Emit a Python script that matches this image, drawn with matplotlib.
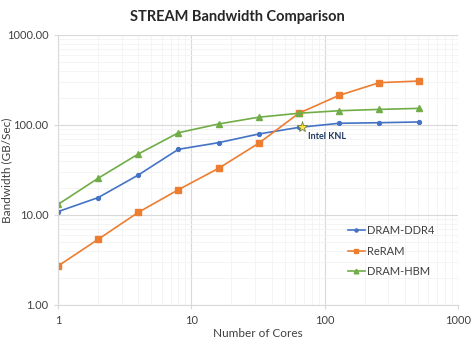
import matplotlib
matplotlib.use("Agg")
import matplotlib.pyplot as plt
from matplotlib.ticker import FixedLocator, FixedFormatter, LogLocator, NullFormatter

plt.rcParams['font.family'] = ['Lato', 'DejaVu Sans']

cores = [1, 2, 4, 8, 16, 32, 64, 128, 256, 512]
ddr4 = [10.9, 15.6, 27.8, 53.7, 63.6, 79.4, 94.0, 104.4, 106.0, 108.0]
reram = [2.71, 5.37, 10.7, 19.1, 33.0, 62.6, 135.0, 213.0, 295.0, 308.0]
hbm = [13.1, 25.6, 47.6, 82.0, 102.6, 122.0, 135.0, 144.0, 149.0, 153.0]
knl_cores = [68]
knl_bw = [95.8]
knl_label = "Intel KNL"

x_ticks = [1, 10, 100, 1000]
x_labels = ["1", "10", "100", "1000"]
y_ticks = [1, 10, 100, 1000]
y_labels = ["1.00", "10.00", "100.00", "1000.00"]

fig = plt.figure(figsize=(4.74, 3.44), dpi=100)
ax = fig.add_axes([0.1224, 0.1134, 0.8438, 0.7849])

ax.plot(cores, ddr4, color="#4472C4", marker="o", markersize=2.8, lw=1.2, label="DRAM-DDR4")
ax.plot(cores, reram, color="#ED7D31", marker="s", markersize=4.2, lw=1.2, label="ReRAM")
ax.plot(cores, hbm, color="#70AD47", marker="^", markersize=4.2, lw=1.2, label="DRAM-HBM")
ax.plot(knl_cores, knl_bw, linestyle="none", marker="*", markersize=8,
        markerfacecolor="#FFE34D", markeredgecolor="#6B7F3A", markeredgewidth=0.6, zorder=5)
ax.annotate(knl_label, (knl_cores[0], knl_bw[0]), xytext=(4, -7), textcoords="offset points",
            fontsize=6.5, fontweight="bold", color="#1F3864", va="center", ha="left")

ax.set_xscale("log")
ax.set_yscale("log")
ax.set_xlim(1, 1000)
ax.set_ylim(1, 1000)

ax.xaxis.set_major_locator(FixedLocator(x_ticks))
ax.xaxis.set_major_formatter(FixedFormatter(x_labels))
ax.yaxis.set_major_locator(FixedLocator(y_ticks))
ax.yaxis.set_major_formatter(FixedFormatter(y_labels))
ax.xaxis.set_minor_locator(LogLocator(base=10, subs=range(2, 10)))
ax.yaxis.set_minor_locator(LogLocator(base=10, subs=range(2, 10)))
ax.xaxis.set_minor_formatter(NullFormatter())
ax.yaxis.set_minor_formatter(NullFormatter())

ax.grid(True, which="major", color="#D9D9D9", lw=0.8)
ax.grid(True, which="minor", color="#F2F2F2", lw=0.6)
ax.set_axisbelow(True)

for s in ["top", "right"]:
    ax.spines[s].set_visible(False)
for s in ["left", "bottom"]:
    ax.spines[s].set_color("#D9D9D9")
    ax.spines[s].set_linewidth(0.8)

ax.tick_params(which="major", length=3, color="#D9D9D9", labelsize=8, labelcolor="#404040", pad=4)
ax.tick_params(which="minor", length=0)

ax.set_xlabel("Number of Cores", fontsize=8.5, color="#404040", labelpad=2)
ax.set_ylabel("Bandwidth (GB/Sec)", fontsize=8.5, color="#404040")
ax.yaxis.set_label_coords(-0.115, 0.5)
fig.suptitle("STREAM Bandwidth Comparison", x=0.5, y=0.97, fontsize=10.5, fontweight="bold", color="#262626")

leg = ax.legend(loc="upper left", bbox_to_anchor=(0.725, 0.295), frameon=False, fontsize=8,
                borderpad=0, borderaxespad=0, handlelength=1.5, handletextpad=0.2,
                labelspacing=0.85, markerscale=0.8)
for t in leg.get_texts():
    t.set_color("#404040")

fig.savefig("out.png", dpi=100)
